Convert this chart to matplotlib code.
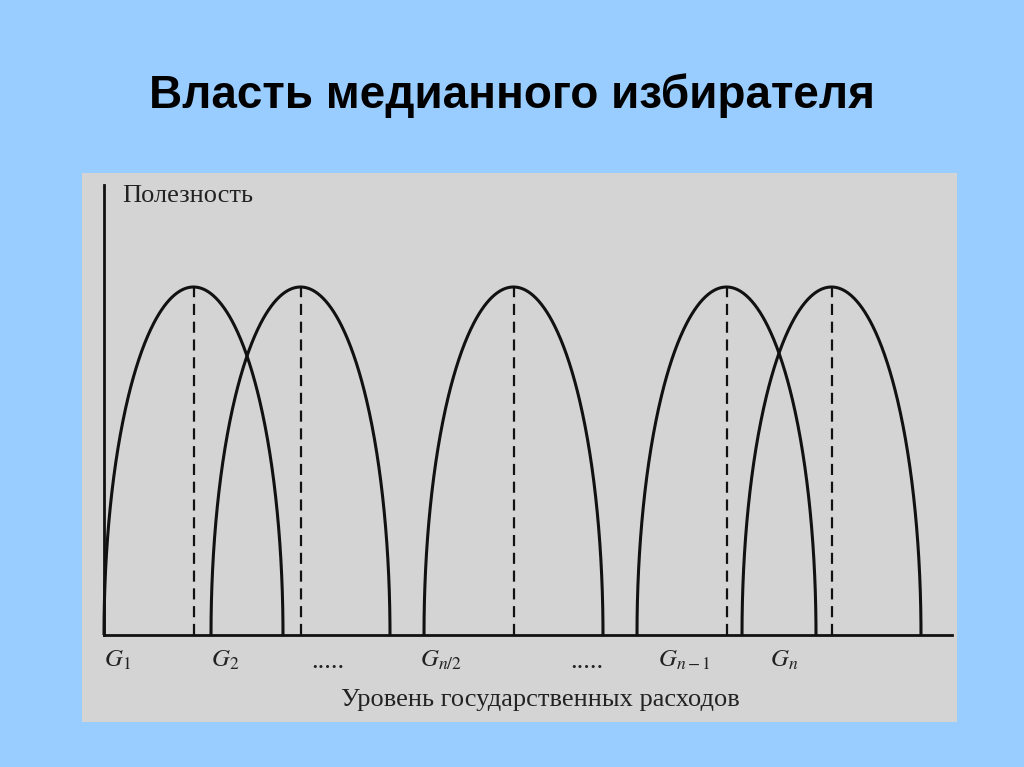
import numpy as np
import matplotlib.pyplot as plt

# ---------- данные ----------
# начало каждой "арки" полезности (ось X, в условных единицах)
curve_starts = [0.0, 10.7, 32.0, 53.3, 63.8]
half_width = 8.95
peak_height = 34.8

tick_pos = [0.0, 10.7, 31.6, 55.4, 66.6]
tick_labels = [r"$G_1$", r"$G_2$", r"$G_{n/2}$", r"$G_{n-1}$", r"$G_n$"]
dots_pos = [22.4, 48.3]

title = "Власть медианного избирателя"
ylabel = "Полезность"
xlabel = "Уровень государственных расходов"
# -----------------------------------------------

BG = "#99CCFF"
PANEL = "#D4D4D4"
INK = "#111111"
TXT = "#222222"

plt.rcParams["mathtext.fontset"] = "stix"

fig = plt.figure(figsize=(10.24, 7.67), dpi=100, facecolor=BG)
W, H = 1024, 767
px0, px1, py0, py1 = 82, 957, 173, 722
ax = fig.add_axes([px0 / W, 1 - py1 / H, (px1 - px0) / W, (py1 - py0) / H])
ax.set_facecolor(PANEL)
ax.set_xlim(-2.2, 85.3)
ax.set_ylim(-8.7, 46.2)

for sp in ["top", "right"]:
    ax.spines[sp].set_visible(False)
ax.spines["left"].set_position(("data", 0))
ax.spines["bottom"].set_position(("data", 0))
ax.spines["left"].set_bounds(0, 45)
ax.spines["bottom"].set_bounds(0, 84.8)
for sp in ["left", "bottom"]:
    ax.spines[sp].set_linewidth(2.0)
    ax.spines[sp].set_color(INK)
ax.set_xticks([])
ax.set_yticks([])

# арки (полуэллипсы) и пунктир до пика
t = np.linspace(0, np.pi, 400)
for s in curve_starts:
    c = s + half_width
    x = c - half_width * np.cos(t)
    y = peak_height * np.sin(t)
    ax.plot(x, y, color=INK, lw=2.2, solid_capstyle="butt")
    ax.plot([c, c], [0, peak_height], color=INK, lw=1.6, dashes=(5, 3))

for p, lab in zip(tick_pos, tick_labels):
    ax.text(p, -2.5, lab, fontsize=18, ha="left", va="center", color=TXT)
for p in dots_pos:
    ax.text(p, -2.7, ".....", fontsize=19, ha="center", va="center", color=TXT,
            family="Liberation Serif")

ax.text(1.8, 43.9, ylabel, fontsize=19, ha="left", va="center", color=TXT,
        family="Liberation Serif")
ax.text(43.6, -6.5, xlabel, fontsize=19, ha="center", va="center", color=TXT,
        family="Liberation Serif")

fig.text(512 / W, 1 - 96 / H, title, fontsize=33, fontweight="bold",
         ha="center", va="center", color="#000000", family="Liberation Sans")

fig.savefig("out.png", dpi=100, facecolor=BG)
